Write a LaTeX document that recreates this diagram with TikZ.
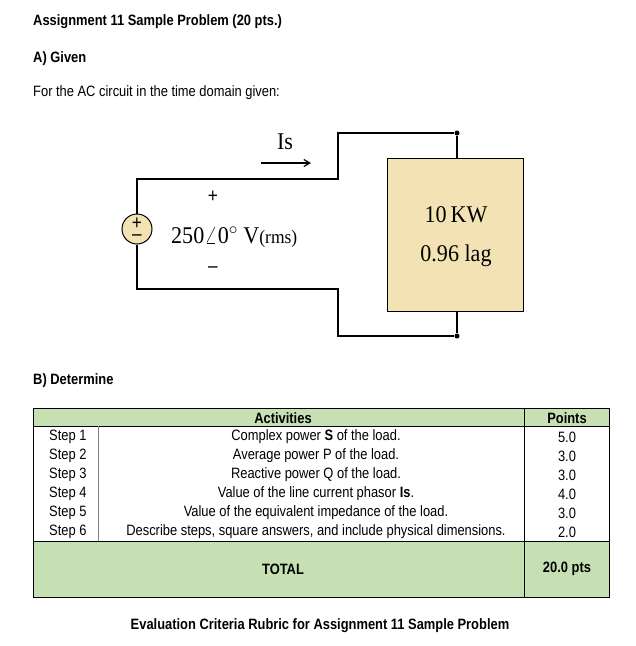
\documentclass[tikz,border=0pt]{standalone}
\usepackage{fontspec}
\usetikzlibrary{arrows.meta}
\setmainfont{Liberation Sans}[FakeStretch=0.86]
\newfontfamily\serifc{Liberation Serif}[FakeStretch=0.92]
\definecolor{tgreen}{HTML}{C6E0B4}
\definecolor{tan}{HTML}{F3E2B3}
\begin{document}
\begin{tikzpicture}[x=1pt,y=-1pt,
  txt/.style={inner sep=0pt,font=\fontsize{15}{17}\selectfont},
  hd/.style={txt,anchor=west,font=\fontsize{15}{17}\selectfont\bfseries},
  ckt/.style={inner sep=0pt,font=\serifc\fontsize{24}{26}\selectfont},
  wire/.style={line width=1.3pt},
  dotc/.style={circle,fill=black,inner sep=0pt,minimum size=5pt}]
\useasboundingbox (0,0) rectangle (636,646);
\node[hd] (t1) at (33,22) {Assignment 11 Sample Problem (20 pts.)};
\node[hd] (t2) at (33,59) {A) Given};
\node[txt,anchor=west] (t3) at (33,93) {For the AC circuit in the time domain given:};
\node[hd] (t4) at (33,381) {B) Determine};
% circuit
\node[draw,rectangle,fill=tan,line width=0.8pt,minimum width=136pt,minimum height=153pt] (load) at (455,234.5) {};
\node[ckt] (l1) at (456,215) {10\,KW};
\node[ckt] (l2) at (456,256) {0.96 lag};
\node[draw,circle,fill=tan,line width=1pt,minimum size=30pt,inner sep=0pt,align=center,
  font=\fontsize{20}{13}\selectfont] (src) at (137,229) {+\\[-2pt]--};
\coordinate (ta) at (457,133); \coordinate (ba) at (457,336);
\node[dotc] (d1) at (ta) {}; \node[dotc] (d2) at (ba) {};
\draw[wire] (src.north) |- (338,179) |- (d1) -- (load.north -| d1);
\draw[wire] (src.south) |- (338,289) |- (d2) -- (load.south -| d2);
\node[inner sep=0pt,font=\fontsize{20}{20}\selectfont] (pl) at (213,197) {+};
\node[inner sep=0pt,font=\fontsize{20}{20}\selectfont] (mi) at (213,270) {--};
\node[ckt,anchor=west] (vl) at (171,237) {250$\angle$0$^{\circ}$ V{\fontsize{19}{19}\selectfont(rms)}};
\node[ckt] (is) at (285,142) {Is};
\coordinate (a1) at (261,163); \coordinate (a2) at (311,163);
\draw[line width=1.2pt,-{Straight Barb[length=6pt,width=7pt]}] (a1) -- (a2);
% table
\fill[tgreen] (33,408) rectangle (609,426);
\fill[tgreen] (33,541) rectangle (609,597);
\draw[line width=0.8pt] (33,408) rectangle (609,597);
\draw[line width=0.6pt] (33,426) -- (609,426) (33,541) -- (609,541) (524,408) -- (524,597);
\draw[line width=0.6pt,gray] (98,426) -- (98,541);
\node[txt,font=\fontsize{15}{17}\selectfont\bfseries] (h1) at (283,418) {Activities};
\node[txt,font=\fontsize{15}{17}\selectfont\bfseries] (h2) at (567,418) {Points};
\foreach \i/\a/\p in {1/{Complex power \textbf{S} of the load.}/5.0,
 2/{Average power P of the load.}/3.0,
 3/{Reactive power Q of the load.}/3.0,
 4/{Value of the line current phasor \textbf{Is}.}/4.0,
 5/{Value of the equivalent impedance of the load.}/3.0,
 6/{Describe steps, square answers, and include physical dimensions.}/2.0}{
 \node[txt,anchor=west] (s\i) at (49,{437+(\i-1)*19}) {Step \i};
 \node[txt] (a\i) at (316,{437+(\i-1)*19}) {\a};
 \node[txt] (p\i) at (567,{437+(\i-1)*19}) {\p};
}
\node[txt,font=\fontsize{15}{17}\selectfont\bfseries] (tot) at (283,569) {TOTAL};
\node[txt,font=\fontsize{15}{17}\selectfont\bfseries] (pts) at (567,569) {20.0 pts};
\node[txt,font=\fontsize{15}{17}\selectfont\bfseries] (cap) at (320,626) {Evaluation Criteria Rubric for Assignment 11 Sample Problem};
\end{tikzpicture}
\end{document}
